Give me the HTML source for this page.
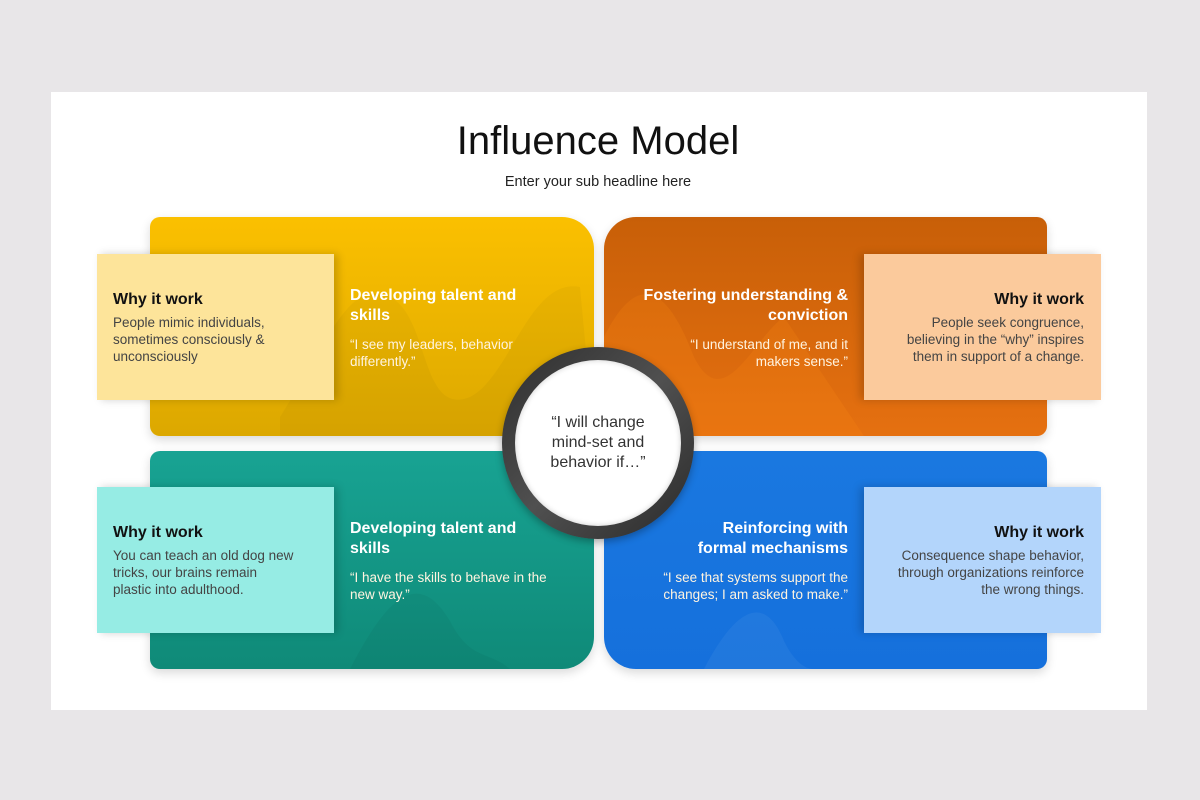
<!DOCTYPE html>
<html><head><meta charset="utf-8"><style>
*{margin:0;padding:0;box-sizing:border-box}
body{width:1200px;height:800px;background:#e8e6e8;position:relative;overflow:hidden;font-family:"Liberation Sans",sans-serif}
.slide{position:absolute;left:51px;top:92px;width:1096px;height:618px;background:#fff}
.abs{position:absolute}
.q{position:absolute;overflow:hidden;box-shadow:0 4px 10px rgba(0,0,0,0.15)}
.q svg{position:absolute;left:0;top:0}
.p{position:absolute;width:237px;height:146px;box-shadow:4px 0 8px rgba(0,0,0,0.18)}
.p h3{position:absolute;top:37px;font-size:16px;font-weight:bold;color:#111}
.p div{position:absolute;top:60px;font-size:13.5px;line-height:17px;color:#444}
.t{position:absolute;color:#fff}
.t h3{font-size:16px;font-weight:bold;line-height:20px}
.t div{font-size:13.5px;line-height:17px;margin-top:10px;color:#fff4e0}
</style></head><body>
<div class="slide"></div>
<div class="abs" style="left:0;top:119px;width:1196px;text-align:center;font-size:40px;color:#111">Influence Model</div>
<div class="abs" style="left:0;top:174px;width:1196px;text-align:center;font-size:14.5px;color:#222">Enter your sub headline here</div>

<div class="q" style="left:150px;top:217px;width:444px;height:219px;border-radius:10px 32px 32px 10px;background:linear-gradient(180deg,#fbc000,#dca800)">
<svg width="444" height="219"><path d="M130 200 C180 120 200 60 240 80 C280 100 270 200 320 180 C360 160 380 60 430 70 L444 219 L130 219Z" fill="rgba(0,0,0,0.03)"/></svg></div>
<div class="q" style="left:604px;top:217px;width:443px;height:219px;border-radius:32px 10px 10px 32px;background:linear-gradient(180deg,#c85f08,#e57010)">
<svg width="443" height="219"><path d="M0 120 C30 60 60 60 90 140 C120 200 150 120 180 100 L260 219 L0 219Z" fill="rgba(255,140,20,0.2)"/></svg></div>
<div class="q" style="left:150px;top:451px;width:444px;height:218px;border-radius:10px 32px 32px 10px;background:linear-gradient(180deg,#18a393,#0f8a78)">
<svg width="444" height="218"><path d="M200 218 C240 140 270 120 300 170 C320 210 340 200 360 218Z" fill="rgba(0,0,0,0.04)"/></svg></div>
<div class="q" style="left:604px;top:451px;width:443px;height:218px;border-radius:32px 10px 10px 32px;background:linear-gradient(180deg,#1a78e0,#1570dc)">
<svg width="443" height="218"><path d="M100 218 C130 160 160 140 180 190 C190 210 200 218 210 218Z" fill="rgba(255,255,255,0.05)"/></svg></div>

<div class="p" style="left:97px;top:254px;background:#fde49a"><h3 style="left:16px">Why it work</h3><div style="left:16px">People mimic individuals,<br>sometimes consciously &amp;<br>unconsciously</div></div>
<div class="p" style="left:864px;top:254px;background:#fbca9c;box-shadow:-4px 0 8px rgba(0,0,0,0.18)"><h3 style="right:17px">Why it work</h3><div style="right:17px;text-align:right">People seek congruence,<br>believing in the “why” inspires<br>them in support of a change.</div></div>
<div class="p" style="left:97px;top:487px;background:#96ece4"><h3 style="left:16px">Why it work</h3><div style="left:16px">You can teach an old dog new<br>tricks, our brains remain<br>plastic into adulthood.</div></div>
<div class="p" style="left:864px;top:487px;background:#b3d5fb;box-shadow:-4px 0 8px rgba(0,0,0,0.18)"><h3 style="right:17px">Why it work</h3><div style="right:17px;text-align:right">Consequence shape behavior,<br>through organizations reinforce<br>the wrong things.</div></div>

<div class="t" style="left:350px;top:286px"><h3>Developing talent and<br>skills</h3><div>“I see my leaders, behavior<br>differently.”</div></div>
<div class="t" style="right:352px;top:286px;text-align:right"><h3>Fostering understanding &amp;<br>conviction</h3><div>“I understand of me, and it<br>makers sense.”</div></div>
<div class="t" style="left:350px;top:519px"><h3>Developing talent and<br>skills</h3><div>“I have the skills to behave in the<br>new way.”</div></div>
<div class="t" style="right:352px;top:519px;text-align:right"><h3>Reinforcing with<br>formal mechanisms</h3><div>“I see that systems support the<br>changes; I am asked to make.”</div></div>

<div class="abs" style="left:502px;top:347px;width:192px;height:192px;border-radius:50%;background:linear-gradient(135deg,#2e2e2e,#505050 50%,#2a2a2a);box-shadow:0 3px 8px rgba(0,0,0,0.3)"></div>
<div class="abs" style="left:515px;top:360px;width:166px;height:166px;border-radius:50%;background:#fff;box-shadow:inset 0 0 6px rgba(0,0,0,0.2)"></div>
<div class="abs" style="left:515px;top:413px;width:166px;text-align:center;font-size:16px;line-height:20px;color:#333">“I will change<br>mind-set and<br>behavior if…”</div>
</body></html>
